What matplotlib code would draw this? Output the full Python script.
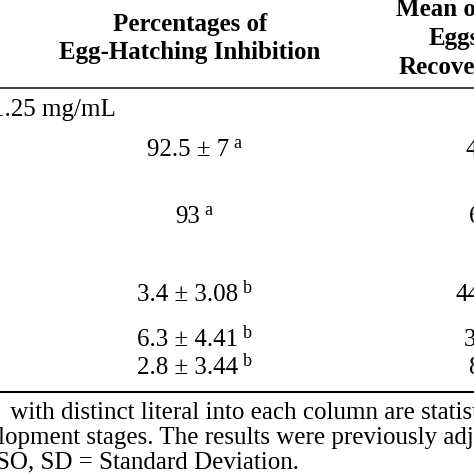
import matplotlib.pyplot as plt

plt.rcParams['font.family'] = ['Liberation Serif', 'DejaVu Serif']

W = H = 474
col1_head = ["Percentages of", "Egg-Hatching Inhibition"]
col2_head = ["Mean o", "Eggs", "Recove"]
group_label = "1.25 mg/mL"
col1_vals = ["92.5 \u00b1 7", "93", "3.4 \u00b1 3.08", "6.3 \u00b1 4.41", "2.8 \u00b1 3.44"]
col1_sups = ["a", "a", "b", "b", "b"]
col2_vals = ["4", "6", "44", "3", "8"]
col2_x = [466, 469, 455, 464, 469]
row_y = [150, 217, 295, 340, 368]
footnote = [" with distinct literal into each column are statistically",
            "lopment stages. The results were previously adjusted",
            "SO, SD = Standard Deviation."]

fig = plt.figure(figsize=(4.74, 4.74), dpi=100)
fig.patch.set_facecolor('white')


def px(x, y):
    return x / W, 1 - y / H


def txt(x, y, s, **kw):
    kw.setdefault('fontsize', 18)
    kw.setdefault('va', 'center')
    return fig.text(*px(x, y), s, **kw)


for s, y in zip(col1_head, [24, 52]):
    txt(190, y, s, ha='center', fontweight='bold')
for s, y, x in zip(col2_head, [10, 38, 68], [396, 429, 399]):
    txt(x, y, s, ha='left', fontweight='bold')

fig.add_artist(plt.Line2D([0, 1], [1 - 88 / H] * 2, color='#333333', lw=1.3))
fig.add_artist(plt.Line2D([0, 1], [1 - 392 / H] * 2, color='black', lw=1.5))

txt(-8, 110, group_label, ha='left')

fig.canvas.draw()
for v, sup, y in zip(col1_vals, col1_sups, row_y):
    t = txt(188, y, v, ha='center')
    bb = t.get_window_extent(renderer=fig.canvas.get_renderer())
    fig.text((bb.x1 + 4) / W, (bb.y1 + 4) / H, sup, fontsize=13,
             ha='left', va='top')
for v, x, y in zip(col2_vals, col2_x, row_y):
    txt(x, y, v, ha='left')

for s, y, x in zip(footnote, [413, 438, 462], [4, -2, -4]):
    txt(x, y, s, ha='left', fontsize=18)

fig.savefig('out.png', dpi=100)
